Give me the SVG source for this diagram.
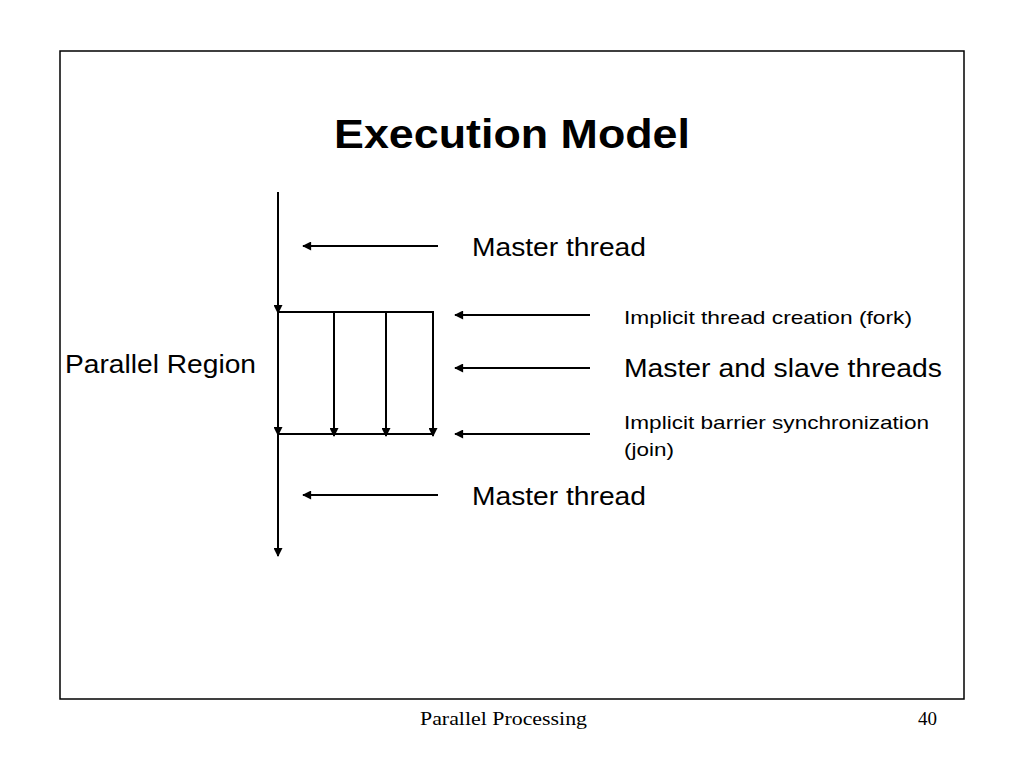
<svg xmlns="http://www.w3.org/2000/svg" width="1024" height="768" viewBox="0 0 1024 768">
<style>
.l{stroke:#000;stroke-width:2;fill:none;marker-end:url(#h2)}
.t{font-family:"Liberation Sans",Arial,sans-serif;fill:#000}
</style>
<defs>
<marker id="h2" viewBox="0 0 10 10" refX="9" refY="5" markerWidth="10" markerHeight="9" orient="auto" markerUnits="userSpaceOnUse"><path d="M0,0 L10,5 L0,10 z" fill="#000"/></marker></defs>
<rect width="1024" height="768" fill="#fff"/>
<rect x="60" y="51" width="904" height="648" fill="none" stroke="#000" stroke-width="1.5"/>
<text class="t" x="334" y="148" font-size="41" font-weight="bold" textLength="356" lengthAdjust="spacingAndGlyphs">Execution Model</text>
<g id="connectors">
<line class="l" x1="278" y1="192" x2="278" y2="313"/>
<line class="l" x1="278" y1="312" x2="278" y2="435"/>
<line class="l" x1="278" y1="434" x2="278" y2="556"/>
<line x1="278" y1="312" x2="434" y2="312" stroke="#000" stroke-width="2"/>
<line x1="278" y1="434" x2="434" y2="434" stroke="#000" stroke-width="2"/>
<line class="l" x1="334" y1="313" x2="334" y2="436"/>
<line class="l" x1="386" y1="313" x2="386" y2="436"/>
<line class="l" x1="433" y1="313" x2="433" y2="436"/>
<line class="l" x1="438" y1="246" x2="303" y2="246"/>
<line class="l" x1="590" y1="315" x2="455" y2="315"/>
<line class="l" x1="590" y1="368" x2="455" y2="368"/>
<line class="l" x1="590" y1="434" x2="455" y2="434"/>
<line class="l" x1="438" y1="495" x2="303" y2="495"/>
</g>
<g id="labels">
<text class="t" x="472" y="256" font-size="25" textLength="174" lengthAdjust="spacingAndGlyphs">Master thread</text>
<text class="t" x="624" y="324" font-size="19" textLength="288" lengthAdjust="spacingAndGlyphs">Implicit thread creation (fork)</text>
<text class="t" x="624" y="377" font-size="25" textLength="318" lengthAdjust="spacingAndGlyphs">Master and slave threads</text>
<text class="t" x="624" y="429" font-size="19" textLength="305" lengthAdjust="spacingAndGlyphs">Implicit barrier synchronization</text>
<text class="t" x="624" y="456" font-size="19" textLength="50" lengthAdjust="spacingAndGlyphs">(join)</text>
<text class="t" x="472" y="505" font-size="25" textLength="174" lengthAdjust="spacingAndGlyphs">Master thread</text>
<text class="t" x="65" y="373" font-size="25" textLength="191" lengthAdjust="spacingAndGlyphs">Parallel Region</text>
</g>
<text x="420" y="725" font-family="'Liberation Serif',serif" font-size="19" textLength="167" lengthAdjust="spacingAndGlyphs">Parallel Processing</text>
<text x="937" y="725" font-family="'Liberation Serif',serif" font-size="19" text-anchor="end">40</text>
</svg>
